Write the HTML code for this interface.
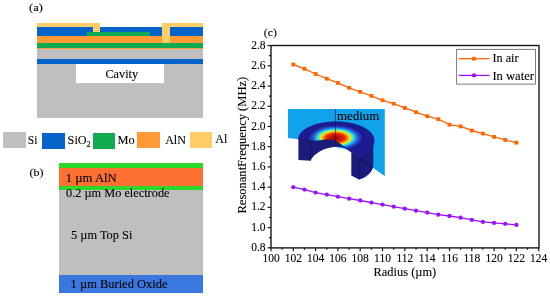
<!DOCTYPE html>
<html><head><meta charset="utf-8"><title>Figure</title>
<style>
html,body{margin:0;padding:0;background:#fff;}
body{width:550px;height:297px;overflow:hidden;}
svg{display:block;}
text{font-family:"Liberation Serif","DejaVu Serif",serif;fill:#000;stroke:#000;stroke-width:0.1px;}
</style></head><body>
<svg width="550" height="297" viewBox="0 0 550 297">
<rect width="550" height="297" fill="#fff"/>

<!-- (a) cross-section -->
<g shape-rendering="crispEdges">
<rect x="37" y="27.3" width="166" height="8.9" fill="#0563c9"/>
<rect x="37" y="23" width="63.2" height="4.3" fill="#ffcc66"/>
<rect x="92.6" y="23" width="7.6" height="8.6" fill="#ffcc66"/>
<rect x="162.4" y="23" width="40.6" height="4.3" fill="#ffcc66"/>
<rect x="87" y="32.2" width="63.1" height="4" fill="#10ab50"/>
<rect x="37" y="36.2" width="166" height="6.6" fill="#ff9933"/>
<rect x="162.4" y="23" width="7.6" height="19.7" fill="#ffcc66"/>
<rect x="37" y="42.7" width="166" height="4.9" fill="#10ab50"/>
<rect x="37" y="47.6" width="166" height="1.6" fill="#ff9933"/>
<rect x="37" y="49.2" width="166" height="9.3" fill="#bfbfbf"/>
<rect x="37" y="58.5" width="166" height="5" fill="#0563c9"/>
<rect x="37" y="63.5" width="166" height="54.5" fill="#bfbfbf"/>
<rect x="75.8" y="63.5" width="88.4" height="19.3" fill="#fff"/>
</g>
<text x="29.1" y="11.4" font-size="11" textLength="13.7" lengthAdjust="spacingAndGlyphs">(a)</text>
<text x="105.4" y="78" font-size="12" textLength="32.8" lengthAdjust="spacingAndGlyphs">Cavity</text>

<!-- material legend -->
<g shape-rendering="crispEdges">
<rect x="3.2" y="132.3" width="22.3" height="15.6" fill="#bfbfbf"/>
<rect x="42" y="132.6" width="22.6" height="15.9" fill="#0563c9"/>
<rect x="93.1" y="132.6" width="22" height="15.9" fill="#10ab50"/>
<rect x="137.4" y="132" width="22.5" height="15.7" fill="#ff9933"/>
<rect x="189.6" y="132" width="22.4" height="15.7" fill="#ffcc66"/>
</g>
<text x="27.8" y="143.8" font-size="12" textLength="9.6" lengthAdjust="spacingAndGlyphs">Si</text>
<text x="67.6" y="144.3" font-size="12" textLength="23.1" lengthAdjust="spacingAndGlyphs">SiO<tspan font-size="8" dy="2.6">2</tspan></text>
<text x="117.5" y="144.3" font-size="12" textLength="17.2" lengthAdjust="spacingAndGlyphs">Mo</text>
<text x="165.2" y="143.6" font-size="12">AlN</text>
<text x="215.3" y="143.1" font-size="12">Al</text>

<!-- (b) layer stack -->
<g shape-rendering="crispEdges">
<rect x="59.2" y="163.2" width="143.3" height="4.3" fill="#2bd92b"/>
<rect x="59.2" y="167.5" width="143.3" height="18.2" fill="#ff7033"/>
<rect x="59.2" y="185.7" width="143.3" height="4.1" fill="#2bd92b"/>
<rect x="59.2" y="189.8" width="143.3" height="84.7" fill="#bfbfbf"/>
<rect x="59.2" y="274.5" width="143.3" height="18.9" fill="#3a78e0"/>
</g>
<text x="29.6" y="176.4" font-size="11" textLength="14" lengthAdjust="spacingAndGlyphs">(b)</text>
<text x="65.7" y="181.7" font-size="12" textLength="51.1" lengthAdjust="spacingAndGlyphs">1 µm AlN</text>
<text x="66.0" y="197" font-size="12" textLength="103.5" lengthAdjust="spacingAndGlyphs">0.2 µm Mo electrode</text>
<text x="71.0" y="239.3" font-size="12" textLength="61.4" lengthAdjust="spacingAndGlyphs">5 µm Top Si</text>
<text x="70.6" y="287.7" font-size="12" textLength="96.9" lengthAdjust="spacingAndGlyphs">1 µm Buried Oxide</text>

<!-- (c) chart -->
<text x="263.8" y="36.3" font-size="11" textLength="13" lengthAdjust="spacingAndGlyphs">(c)</text>

<!-- inset -->
<g id="inset">
<defs>
<radialGradient id="hot" gradientUnits="userSpaceOnUse" cx="0" cy="0" r="1" gradientTransform="translate(335.6 137.8) scale(27 12.6)">
<stop offset="0" stop-color="#8c0a00"/>
<stop offset="0.2" stop-color="#c81400"/>
<stop offset="0.36" stop-color="#f03200"/>
<stop offset="0.46" stop-color="#ff9600"/>
<stop offset="0.54" stop-color="#f0f028"/>
<stop offset="0.60" stop-color="#78f078"/>
<stop offset="0.68" stop-color="#28dcf0"/>
<stop offset="0.80" stop-color="#2864e6"/>
<stop offset="1" stop-color="#1c1c90"/>
</radialGradient>
<clipPath id="topclip"><path d="M298.2 139.2 C298.8 128.5 316 121.4 336.3 121.4 C357.5 121.4 374.5 129.8 374.5 140.5 C374.5 147.5 368.5 153.8 359 157.8 L335.4 140.5 L327 139.6 L315 141.3 Z"/></clipPath>
</defs>
<path d="M288 109 H384.8 V176.3 L373.3 168 L350 150 L298.3 139.2 L288 138 Z" fill="#10a2ea"/>
<!-- walls -->
<path d="M298.4 139 V160 L310.5 160.7 C314 154 322 148 335.4 146.8 C343 146.2 348 148.5 351.3 152.2 V175.4 L359 179.6 C366 178 373.3 172 373.3 165 V141 L359 157.8 L335.4 140.5 L327 139.6 L315 141.3 Z" fill="#1b1b7c"/>
<!-- top -->
<path d="M298.2 139.2 C298.8 128.5 316 121.4 336.3 121.4 C357.5 121.4 374.5 129.8 374.5 140.5 C374.5 147.5 368.5 153.8 359 157.8 L335.4 140.5 L327 139.6 L315 141.3 Z" fill="#1c1c90"/>
<g clip-path="url(#topclip)"><ellipse cx="335.6" cy="137.8" rx="27" ry="12.6" fill="url(#hot)"/></g>
<g stroke="#0d0d50" stroke-width="0.6" fill="none">
<line x1="335.4" y1="109" x2="335.4" y2="140.5"/>
<line x1="310.5" y1="141" x2="310.5" y2="160.7"/>
<line x1="359" y1="157.8" x2="359" y2="179.6"/>
<line x1="335.4" y1="140.5" x2="359" y2="157.8"/>
<line x1="359" y1="157.8" x2="373" y2="168"/>
<path d="M298.4 139.3 L315 141.3 L327 139.6 L335.4 140.5"/>
</g>
<text x="337" y="119.6" font-size="11.5" textLength="42.3" lengthAdjust="spacingAndGlyphs">medium</text>
</g>

<!-- axes -->
<g stroke="#1a1a1a" fill="none">
<rect x="271" y="45.5" width="268" height="202.4" stroke-width="1.4"/>
<g stroke-width="1.2"><line x1="267.6" x2="271" y1="247.8" y2="247.8"/><line x1="269" x2="271" y1="237.7" y2="237.7"/><line x1="267.6" x2="271" y1="227.6" y2="227.6"/><line x1="269" x2="271" y1="217.5" y2="217.5"/><line x1="267.6" x2="271" y1="207.4" y2="207.4"/><line x1="269" x2="271" y1="197.2" y2="197.2"/><line x1="267.6" x2="271" y1="187.1" y2="187.1"/><line x1="269" x2="271" y1="177.0" y2="177.0"/><line x1="267.6" x2="271" y1="166.9" y2="166.9"/><line x1="269" x2="271" y1="156.8" y2="156.8"/><line x1="267.6" x2="271" y1="146.7" y2="146.7"/><line x1="269" x2="271" y1="136.6" y2="136.6"/><line x1="267.6" x2="271" y1="126.5" y2="126.5"/><line x1="269" x2="271" y1="116.4" y2="116.4"/><line x1="267.6" x2="271" y1="106.3" y2="106.3"/><line x1="269" x2="271" y1="96.2" y2="96.2"/><line x1="267.6" x2="271" y1="86.0" y2="86.0"/><line x1="269" x2="271" y1="75.9" y2="75.9"/><line x1="267.6" x2="271" y1="65.8" y2="65.8"/><line x1="269" x2="271" y1="55.7" y2="55.7"/><line x1="267.6" x2="271" y1="45.6" y2="45.6"/><line x1="271.0" x2="271.0" y1="248" y2="251.2"/><line x1="282.2" x2="282.2" y1="248" y2="249.8"/><line x1="293.3" x2="293.3" y1="248" y2="251.2"/><line x1="304.5" x2="304.5" y1="248" y2="249.8"/><line x1="315.6" x2="315.6" y1="248" y2="251.2"/><line x1="326.8" x2="326.8" y1="248" y2="249.8"/><line x1="337.9" x2="337.9" y1="248" y2="251.2"/><line x1="349.1" x2="349.1" y1="248" y2="249.8"/><line x1="360.2" x2="360.2" y1="248" y2="251.2"/><line x1="371.4" x2="371.4" y1="248" y2="249.8"/><line x1="382.5" x2="382.5" y1="248" y2="251.2"/><line x1="393.7" x2="393.7" y1="248" y2="249.8"/><line x1="404.8" x2="404.8" y1="248" y2="251.2"/><line x1="416.0" x2="416.0" y1="248" y2="249.8"/><line x1="427.2" x2="427.2" y1="248" y2="251.2"/><line x1="438.3" x2="438.3" y1="248" y2="249.8"/><line x1="449.5" x2="449.5" y1="248" y2="251.2"/><line x1="460.6" x2="460.6" y1="248" y2="249.8"/><line x1="471.8" x2="471.8" y1="248" y2="251.2"/><line x1="482.9" x2="482.9" y1="248" y2="249.8"/><line x1="494.1" x2="494.1" y1="248" y2="251.2"/><line x1="505.2" x2="505.2" y1="248" y2="249.8"/><line x1="516.4" x2="516.4" y1="248" y2="251.2"/><line x1="527.5" x2="527.5" y1="248" y2="249.8"/><line x1="538.7" x2="538.7" y1="248" y2="251.2"/></g>
</g>
<g font-size="11.5"><text x="265.6" y="250.8" text-anchor="end">0.8</text><text x="265.6" y="230.6" text-anchor="end">1.0</text><text x="265.6" y="210.4" text-anchor="end">1.2</text><text x="265.6" y="190.1" text-anchor="end">1.4</text><text x="265.6" y="169.9" text-anchor="end">1.6</text><text x="265.6" y="149.7" text-anchor="end">1.8</text><text x="265.6" y="129.5" text-anchor="end">2.0</text><text x="265.6" y="109.3" text-anchor="end">2.2</text><text x="265.6" y="89.0" text-anchor="end">2.4</text><text x="265.6" y="68.8" text-anchor="end">2.6</text><text x="265.6" y="48.6" text-anchor="end">2.8</text><text x="271.0" y="261.8" text-anchor="middle">100</text><text x="293.3" y="261.8" text-anchor="middle">102</text><text x="315.6" y="261.8" text-anchor="middle">104</text><text x="337.9" y="261.8" text-anchor="middle">106</text><text x="360.2" y="261.8" text-anchor="middle">108</text><text x="382.5" y="261.8" text-anchor="middle">110</text><text x="404.8" y="261.8" text-anchor="middle">112</text><text x="427.2" y="261.8" text-anchor="middle">114</text><text x="449.5" y="261.8" text-anchor="middle">116</text><text x="471.8" y="261.8" text-anchor="middle">118</text><text x="494.1" y="261.8" text-anchor="middle">120</text><text x="516.4" y="261.8" text-anchor="middle">122</text><text x="538.7" y="261.8" text-anchor="middle">124</text></g>
<text x="373.6" y="275.7" font-size="11.8" textLength="62.6" lengthAdjust="spacingAndGlyphs">Radius (µm)</text>
<text transform="translate(245.5 213.5) rotate(-90)" font-size="11.8" textLength="136.7" lengthAdjust="spacingAndGlyphs">ResonantFrequency (MHz)</text>

<!-- series -->
<polyline points="293.3,64.5 304.5,68.8 315.6,74.0 326.8,78.7 337.9,82.9 349.1,87.8 360.2,91.8 371.4,95.9 382.5,100.3 393.7,103.7 404.8,107.9 416.0,112.2 427.2,116.2 438.3,119.2 449.5,124.7 460.6,126.4 471.8,130.5 482.9,133.6 494.1,136.9 505.2,139.9 516.4,142.7" fill="none" stroke="#ff6600" stroke-width="1.35"/>
<g fill="#ff6600"><rect x="291.4" y="62.6" width="3.8" height="3.8"/><rect x="302.6" y="66.9" width="3.8" height="3.8"/><rect x="313.7" y="72.1" width="3.8" height="3.8"/><rect x="324.9" y="76.8" width="3.8" height="3.8"/><rect x="336.0" y="81.0" width="3.8" height="3.8"/><rect x="347.2" y="85.9" width="3.8" height="3.8"/><rect x="358.3" y="89.9" width="3.8" height="3.8"/><rect x="369.5" y="94.0" width="3.8" height="3.8"/><rect x="380.6" y="98.4" width="3.8" height="3.8"/><rect x="391.8" y="101.8" width="3.8" height="3.8"/><rect x="402.9" y="106.0" width="3.8" height="3.8"/><rect x="414.1" y="110.3" width="3.8" height="3.8"/><rect x="425.3" y="114.3" width="3.8" height="3.8"/><rect x="436.4" y="117.3" width="3.8" height="3.8"/><rect x="447.6" y="122.8" width="3.8" height="3.8"/><rect x="458.7" y="124.5" width="3.8" height="3.8"/><rect x="469.9" y="128.6" width="3.8" height="3.8"/><rect x="481.0" y="131.7" width="3.8" height="3.8"/><rect x="492.2" y="135.0" width="3.8" height="3.8"/><rect x="503.3" y="138.0" width="3.8" height="3.8"/><rect x="514.5" y="140.8" width="3.8" height="3.8"/></g>
<polyline points="293.3,187.2 304.5,189.6 315.6,192.6 326.8,194.6 337.9,196.7 349.1,198.7 360.2,200.5 371.4,202.6 382.5,204.6 393.7,206.7 404.8,208.7 416.0,210.7 427.2,212.6 438.3,214.7 449.5,216.0 460.6,217.7 471.8,219.9 482.9,221.9 494.1,222.9 505.2,223.8 516.4,224.9" fill="none" stroke="#9911ff" stroke-width="1.35"/>
<g fill="#9911ff"><circle cx="293.3" cy="187.2" r="2.15"/><circle cx="304.5" cy="189.6" r="2.15"/><circle cx="315.6" cy="192.6" r="2.15"/><circle cx="326.8" cy="194.6" r="2.15"/><circle cx="337.9" cy="196.7" r="2.15"/><circle cx="349.1" cy="198.7" r="2.15"/><circle cx="360.2" cy="200.5" r="2.15"/><circle cx="371.4" cy="202.6" r="2.15"/><circle cx="382.5" cy="204.6" r="2.15"/><circle cx="393.7" cy="206.7" r="2.15"/><circle cx="404.8" cy="208.7" r="2.15"/><circle cx="416.0" cy="210.7" r="2.15"/><circle cx="427.2" cy="212.6" r="2.15"/><circle cx="438.3" cy="214.7" r="2.15"/><circle cx="449.5" cy="216.0" r="2.15"/><circle cx="460.6" cy="217.7" r="2.15"/><circle cx="471.8" cy="219.9" r="2.15"/><circle cx="482.9" cy="221.9" r="2.15"/><circle cx="494.1" cy="222.9" r="2.15"/><circle cx="505.2" cy="223.8" r="2.15"/><circle cx="516.4" cy="224.9" r="2.15"/></g>

<!-- chart legend -->
<rect x="456.7" y="49.3" width="78.7" height="34.8" fill="#fff" stroke="#444" stroke-width="0.7"/>
<line x1="458.6" x2="489.5" y1="58.7" y2="58.7" stroke="#ff6600" stroke-width="1.3"/>
<rect x="472.1" y="56.8" width="3.8" height="3.8" fill="#ff6600"/>
<line x1="458.6" x2="489.5" y1="75.4" y2="75.4" stroke="#9911ff" stroke-width="1.3"/>
<circle cx="474" cy="75.4" r="2.15" fill="#9911ff"/>
<text x="492.4" y="62.3" font-size="11.8" textLength="26.2" lengthAdjust="spacingAndGlyphs">In air</text>
<text x="492.4" y="79.5" font-size="11.8" textLength="41.6" lengthAdjust="spacingAndGlyphs">In water</text>
</svg>
</body></html>
